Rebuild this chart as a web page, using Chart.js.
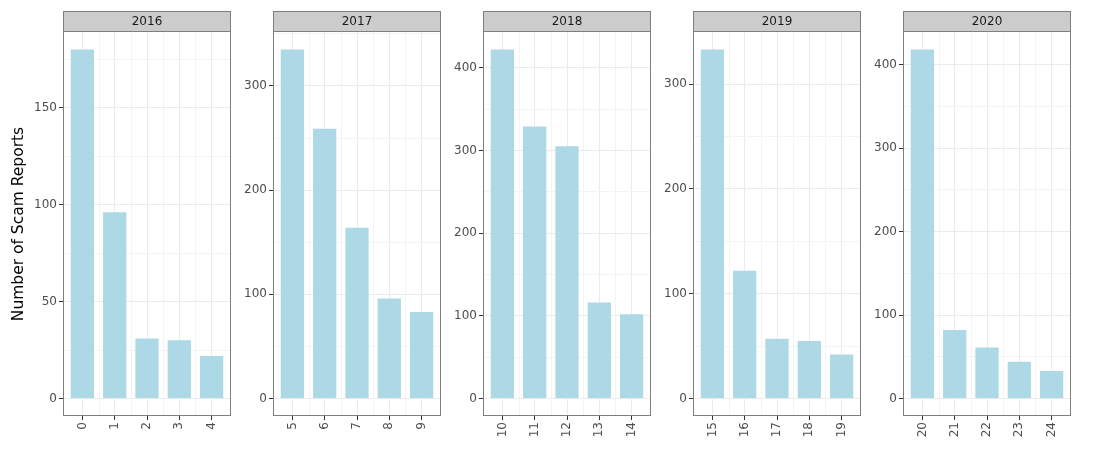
<!DOCTYPE html>
<html>
<head>
<meta charset="utf-8">
<script src="https://cdn.jsdelivr.net/npm/chart.js@4"></script>
<style>
  body { margin: 0; background: #fff; width: 1096px; height: 456px; position: relative; overflow: hidden; }
  canvas { position: absolute; top: 0; }
</style>
</head>
<body>
<script>
// Facet titles
const years = ["2016", "2017", "2018", "2019", "2020"];

// Category labels for each facet
const categories2016 = ["0", "1", "2", "3", "4"];
const categories2017 = ["5", "6", "7", "8", "9"];
const categories2018 = ["10", "11", "12", "13", "14"];
const categories2019 = ["15", "16", "17", "18", "19"];
const categories2020 = ["20", "21", "22", "23", "24"];

// Number of scam reports
const counts2016 = [180, 96, 31, 30, 22];
const counts2017 = [335, 259, 164, 96, 83];
const counts2018 = [422, 329, 305, 116, 102];
const counts2019 = [333, 122, 57, 55, 42];
const counts2020 = [418, 82, 61, 44, 33];

// Y tick labels (major) and minor grid values per facet
const majorTicks2016 = [0, 50, 100, 150];
const minorTicks2016 = [25, 75, 125, 175];
const majorTicks2017 = [0, 100, 200, 300];
const minorTicks2017 = [50, 150, 250, 350];
const majorTicks2018 = [0, 100, 200, 300, 400];
const minorTicks2018 = [50, 150, 250, 350];
const majorTicks2019 = [0, 100, 200, 300];
const minorTicks2019 = [50, 150, 250];
const majorTicks2020 = [0, 100, 200, 300, 400];
const minorTicks2020 = [50, 150, 250, 350];

const allCategories = [categories2016, categories2017, categories2018, categories2019, categories2020];
const allCounts = [counts2016, counts2017, counts2018, counts2019, counts2020];
const allMajor = [majorTicks2016, majorTicks2017, majorTicks2018, majorTicks2019, majorTicks2020];
const allMinor = [minorTicks2016, minorTicks2017, minorTicks2018, minorTicks2019, minorTicks2020];

// layout of the panels
const plotLefts = [63, 273, 483, 693, 903];
const plotWidth = 168;
const plotTop = 32;
const axisHeight = 40;

Chart.defaults.font.family = "DejaVu Sans";

// draws minor x grid, panel border and the grey strip with the year
const facetPlugin = {
  id: "facet",
  beforeDraw(chart, args, opts) {
    const { ctx, chartArea, scales } = chart;
    ctx.save();
    ctx.strokeStyle = "#F4F4F4";
    ctx.lineWidth = 1;
    for (let j = 0; j < 4; j++) {
      const x = Math.round(scales.x.getPixelForValue(j + 0.5)) + 0.5;
      ctx.beginPath();
      ctx.moveTo(x, chartArea.top);
      ctx.lineTo(x, chartArea.bottom);
      ctx.stroke();
    }
    ctx.restore();
  },
  afterDraw(chart, args, opts) {
    const { ctx, chartArea } = chart;
    const w = chartArea.right - chartArea.left;
    ctx.save();
    ctx.strokeStyle = "#7F7F7F";
    ctx.lineWidth = 1;
    ctx.strokeRect(chartArea.left + 0.5, chartArea.top - 0.5, w - 1, chartArea.bottom - chartArea.top);
    // strip
    ctx.fillStyle = "#CCCCCC";
    ctx.fillRect(chartArea.left + 0.5, 11.5, w - 1, 20);
    ctx.strokeRect(chartArea.left + 0.5, 11.5, w - 1, 20);
    ctx.fillStyle = "#1A1A1A";
    ctx.font = "12px 'DejaVu Sans'";
    ctx.textAlign = "center";
    ctx.textBaseline = "middle";
    ctx.fillText(opts.title, chartArea.left + w / 2, 21.5);
    ctx.restore();
  },
};

years.forEach(function (year, i) {
  const cats = allCategories[i];
  const counts = allCounts[i];
  const major = allMajor[i];
  const minor = allMinor[i];
  const axisW = i === 0 ? 63 : 42;
  const top = Math.max(...counts);

  const canvas = document.createElement("canvas");
  canvas.width = axisW + plotWidth + 2;
  canvas.height = 456;
  canvas.style.left = plotLefts[i] - axisW + "px";
  document.body.appendChild(canvas);

  new Chart(canvas.getContext("2d"), {
    type: "bar",
    data: {
      datasets: [
        {
          data: counts.map((v, j) => ({ x: j, y: v })),
          backgroundColor: "#ADD8E6",
          borderWidth: 0,
          categoryPercentage: 1,
          barPercentage: 0.72,
        },
      ],
    },
    plugins: [facetPlugin],
    options: {
      responsive: false,
      animation: false,
      devicePixelRatio: 1,
      layout: { padding: { top: plotTop, right: 2, bottom: 0, left: 0 } },
      plugins: {
        legend: { display: false },
        tooltip: { enabled: false },
        facet: { title: year },
      },
      scales: {
        x: {
          type: "linear",
          offset: false,
          bounds: "data",
          min: -0.6,
          max: 4.6,
          afterBuildTicks: (s) => {
            s.ticks = cats.map((c, j) => ({ value: j }));
          },
          afterFit: (s) => {
            s.height = axisHeight;
          },
          ticks: {
            autoSkip: false,
            minRotation: 90,
            maxRotation: 90,
            padding: 2,
            color: "#4D4D4D",
            font: { size: 12 },
            callback: (v) => cats[v],
          },
          grid: { offset: false, color: "#EBEBEB", lineWidth: 1, tickLength: 4, tickColor: "#333333" },
          border: { display: false },
        },
        y: {
          min: -0.05 * top,
          max: 1.05 * top,
          afterBuildTicks: (s) => {
            s.ticks = major.concat(minor).sort((a, b) => a - b).map((v) => ({ value: v }));
          },
          afterFit: (s) => {
            s.width = axisW;
          },
          ticks: {
            padding: 2,
            color: "#4D4D4D",
            font: { size: 12 },
            callback: (v) => (major.includes(v) ? String(v) : ""),
          },
          grid: {
            color: (c) => (major.includes(c.tick.value) ? "#EBEBEB" : "#F4F4F4"),
            lineWidth: 1,
            tickLength: 4,
            tickColor: (c) => (major.includes(c.tick.value) ? "#333333" : "rgba(0,0,0,0)"),
          },
          border: { display: false },
          title: {
            display: i === 0,
            text: "Number of Scam Reports",
            color: "#000000",
            font: { size: 15.5 },
            padding: { top: 10, bottom: 0 },
          },
        },
      },
    },
  });
});
</script>
</body>
</html>
